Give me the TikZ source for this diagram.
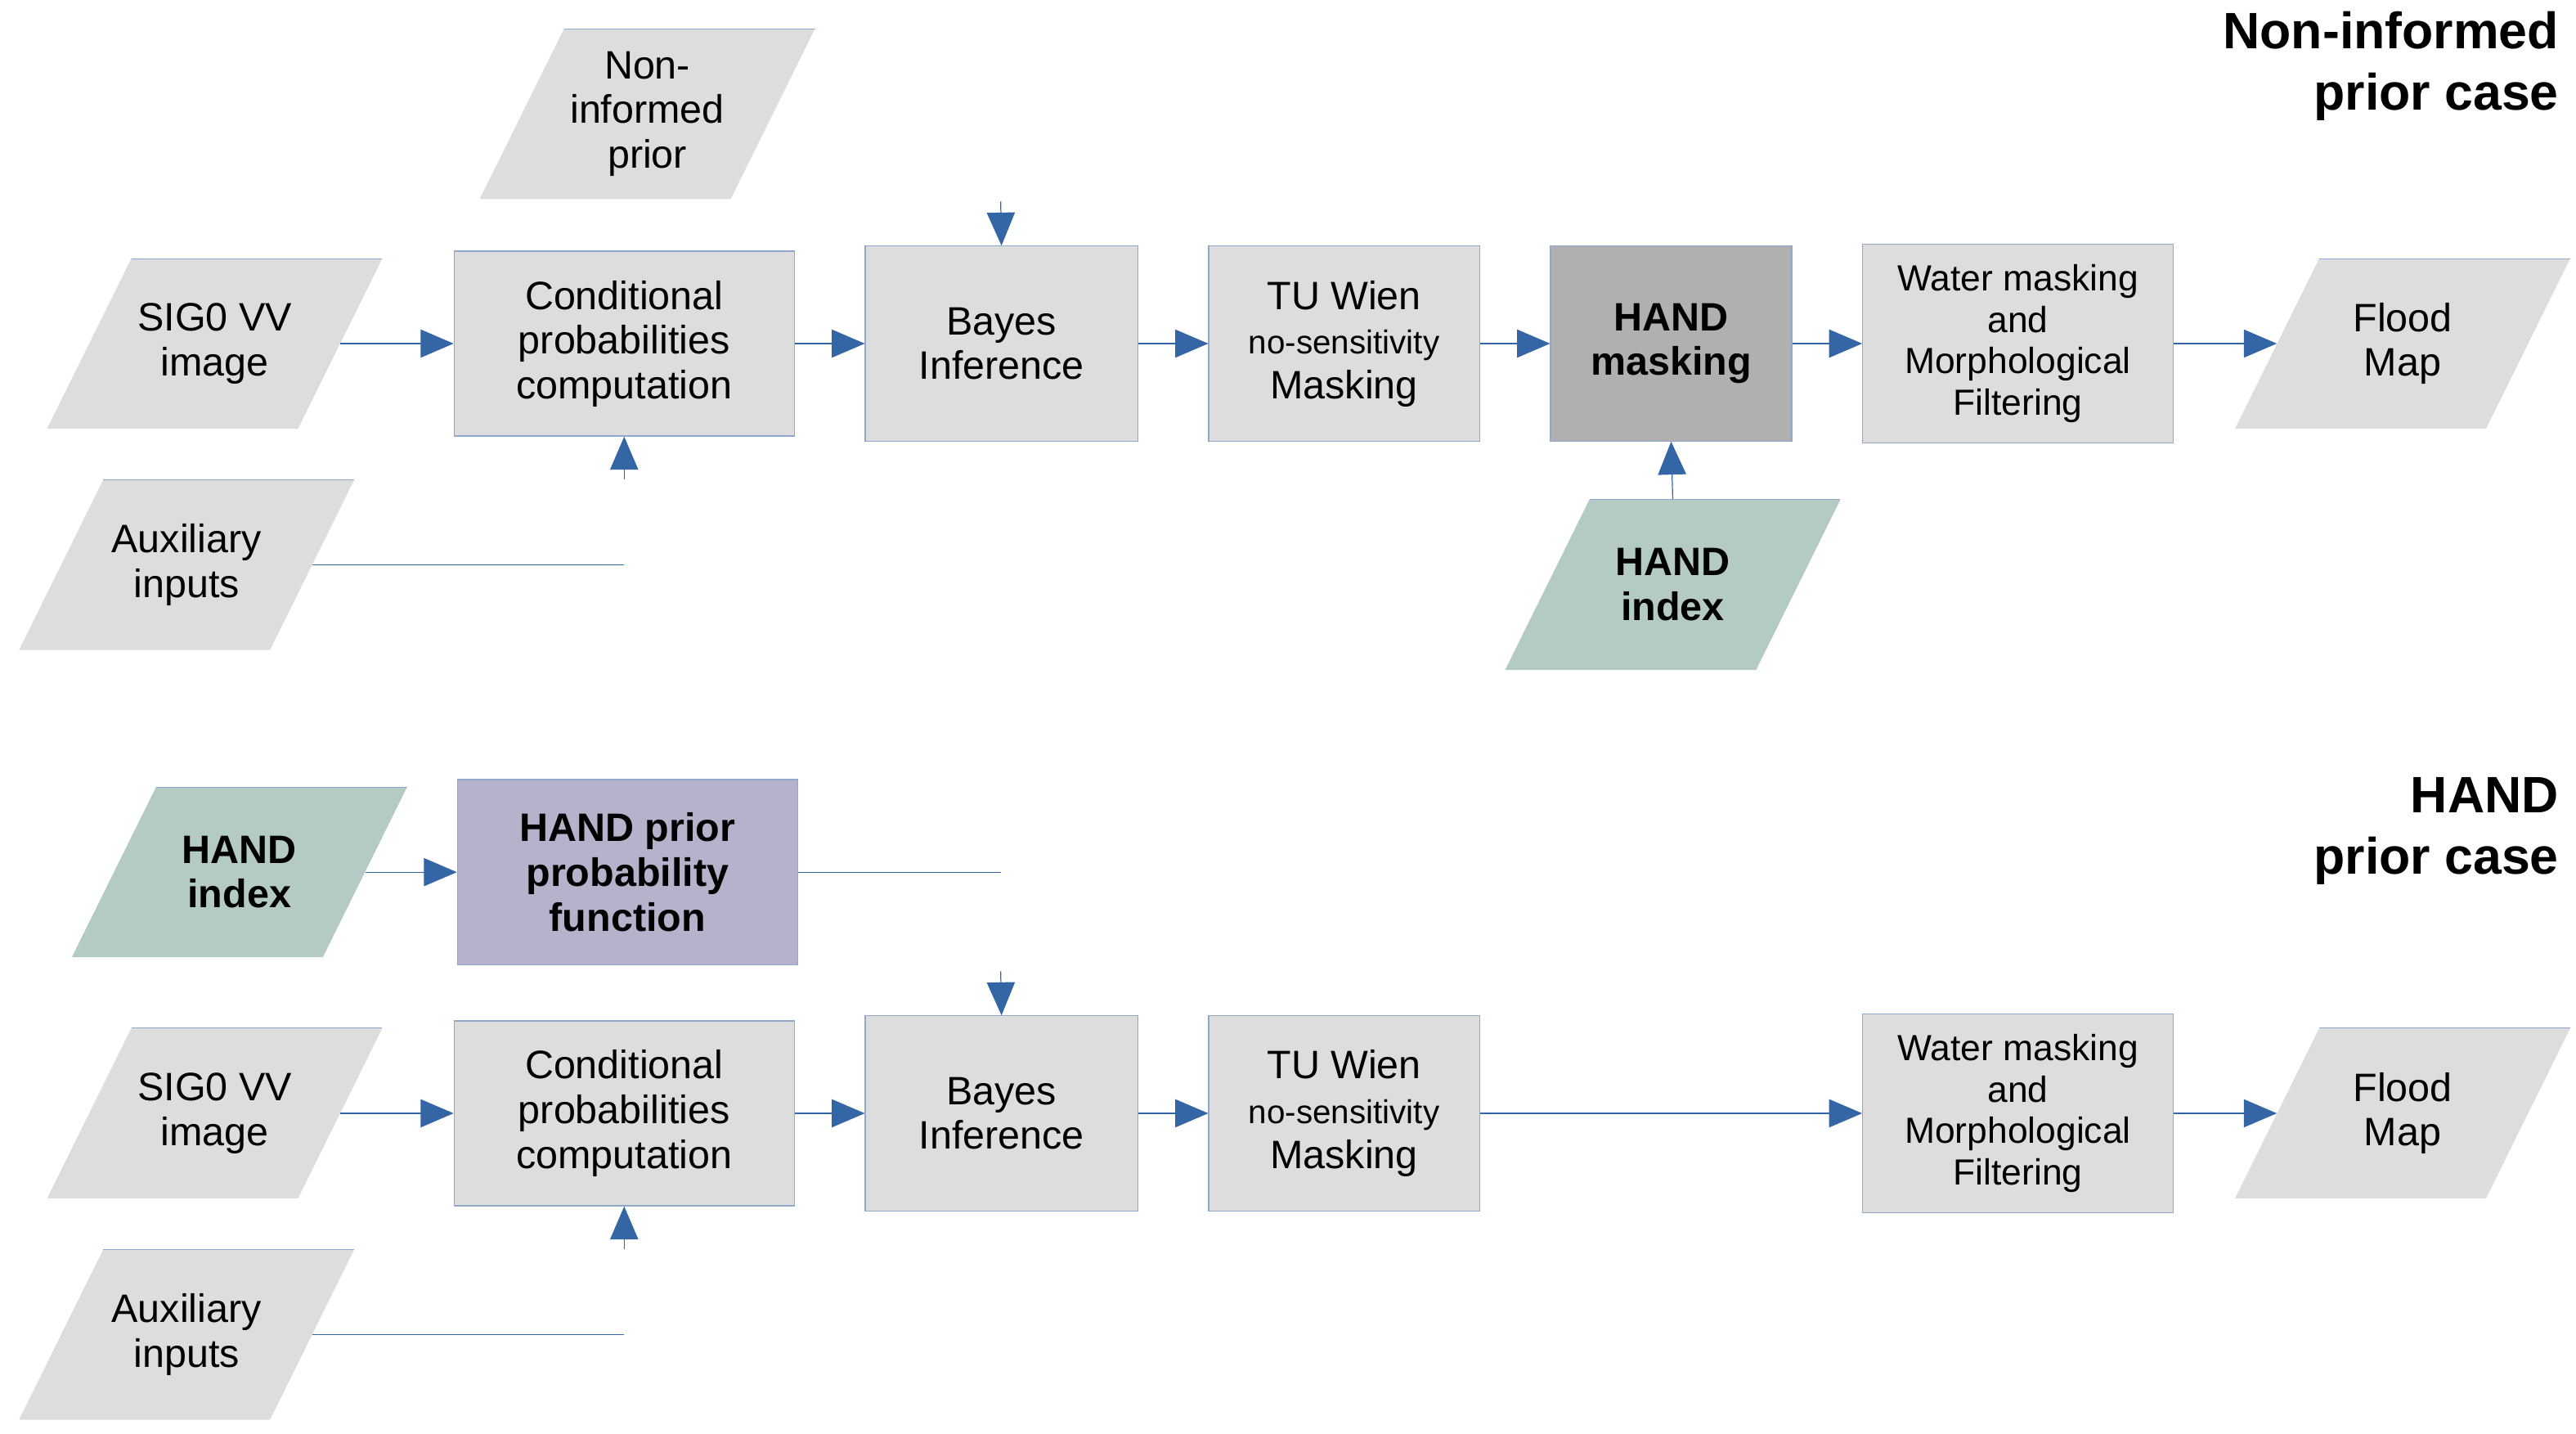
\documentclass[tikz,border=0pt]{standalone}
\usepackage{fontspec}
\setmainfont{Liberation Sans}
\usetikzlibrary{arrows.meta}
\definecolor{bx}{HTML}{DDDDDD}
\definecolor{bd}{HTML}{8FA8CC}
\definecolor{ar}{HTML}{3465A4}
\definecolor{hm}{HTML}{B0B0B0}
\definecolor{hi}{HTML}{B3CAC5}
\definecolor{hp}{HTML}{B5B3CC}
\begin{document}
\begin{tikzpicture}[x=1pt,y=-1pt,
  box/.style={draw=bd,line width=0.6pt,fill=bx,align=center,inner sep=0pt,font=\fontsize{24}{27}\selectfont},
  pnode/.style={inner sep=0pt,minimum width=152pt,minimum height=103pt,align=center,font=\fontsize{24}{27}\selectfont},
  con/.style={draw=ar,line width=0.6pt},
  arr/.style={con,-{Triangle[length=20pt,width=17pt]}},
  ttl/.style={anchor=east,align=right,font=\bfseries\fontsize{31}{37}\selectfont}]
\useasboundingbox (0,0) rectangle (1560,868);
\newcommand{\para}[5]{%
  \fill[#4] (#2-76+25.5,#3-51.5) -- (#2+76+25.5,#3-51.5) -- (#2+76-25.5,#3+51.5) -- (#2-76-25.5,#3+51.5) -- cycle;
  \draw[bd,line width=0.5pt] (#2-76+25.5,#3-51.5) -- (#2+76+25.5,#3-51.5);
  \node[pnode] (#1) at (#2,#3) {#5};}
% ---------- top ----------
\node[ttl] at (1553,40) {Non-informed\\prior case};
\para{nip}{392}{69}{bx}{Non-\\informed\\prior}
\para{sig}{130}{208}{bx}{SIG0 VV\\image}
\para{aux}{113}{342}{bx}{Auxiliary\\inputs}
\para{flood}{1455}{208}{bx}{Flood\\Map}
\para{hidx}{1013}{354}{hi}{\bfseries HAND\\\bfseries index}
\node[box,minimum width=206pt,minimum height=112pt] (cond) at (378,208) {Conditional\\probabilities\\computation};
\node[box,minimum width=165pt,minimum height=118pt] (bay) at (606.5,208) {Bayes\\Inference};
\node[box,minimum width=164pt,minimum height=118pt] (tu) at (814,208) {TU Wien\\{\fontsize{20}{24}\selectfont no-sensitivity}\\Masking};
\node[box,fill=hm,minimum width=146pt,minimum height=118pt,font=\bfseries\fontsize{24}{27}\selectfont] (hm) at (1012,208) {HAND\\masking};
\node[box,minimum width=188pt,minimum height=120pt,font=\fontsize{22}{25}\selectfont] (wat) at (1222,208) {Water masking\\and\\Morphological\\Filtering};
\coordinate (a1) at (378,342);
\coordinate (a2) at (378,290);
\coordinate (b1) at (606,122);
\draw[arr] (sig.east) -- (cond.west);
\draw[arr] (cond.east) -- (bay.west);
\draw[arr] (bay.east) -- (tu.west);
\draw[arr] (tu.east) -- (hm.west);
\draw[arr] (hm.east) -- (wat.west);
\draw[arr] (wat.east) -- (flood.west);
\draw[con] (aux.east) -- (a1);
\draw[arr] (a2) -- (cond.south);
\draw[arr] (b1) -- (bay.north);
\draw[arr] (hidx.north) -- (hm.south);
% ---------- bottom ----------
\node[ttl] at (1553,503) {HAND\\prior case};
\para{hidx2}{145}{528}{hi}{\bfseries HAND\\\bfseries index}
\para{sig2}{130}{674}{bx}{SIG0 VV\\image}
\para{aux2}{113}{808}{bx}{Auxiliary\\inputs}
\para{flood2}{1455}{674}{bx}{Flood\\Map}
\node[box,fill=hp,minimum width=206pt,minimum height=112pt,font=\bfseries\fontsize{24}{27}\selectfont] (hp) at (380,528) {HAND prior\\probability\\function};
\node[box,minimum width=206pt,minimum height=112pt] (cond2) at (378,674) {Conditional\\probabilities\\computation};
\node[box,minimum width=165pt,minimum height=118pt] (bay2) at (606.5,674) {Bayes\\Inference};
\node[box,minimum width=164pt,minimum height=118pt] (tu2) at (814,674) {TU Wien\\{\fontsize{20}{24}\selectfont no-sensitivity}\\Masking};
\node[box,minimum width=188pt,minimum height=120pt,font=\fontsize{22}{25}\selectfont] (wat2) at (1222,674) {Water masking\\and\\Morphological\\Filtering};
\coordinate (c1) at (378,808);
\coordinate (c2) at (378,756);
\coordinate (d0) at (606,528);
\coordinate (d1) at (606,588);
\draw[arr] (hidx2.east) -- (hp.west);
\draw[con] (hp.east) -- (d0);
\draw[arr] (d1) -- (bay2.north);
\draw[arr] (sig2.east) -- (cond2.west);
\draw[arr] (cond2.east) -- (bay2.west);
\draw[arr] (bay2.east) -- (tu2.west);
\draw[arr] (tu2.east) -- (wat2.west);
\draw[arr] (wat2.east) -- (flood2.west);
\draw[con] (aux2.east) -- (c1);
\draw[arr] (c2) -- (cond2.south);
\end{tikzpicture}
\end{document}
